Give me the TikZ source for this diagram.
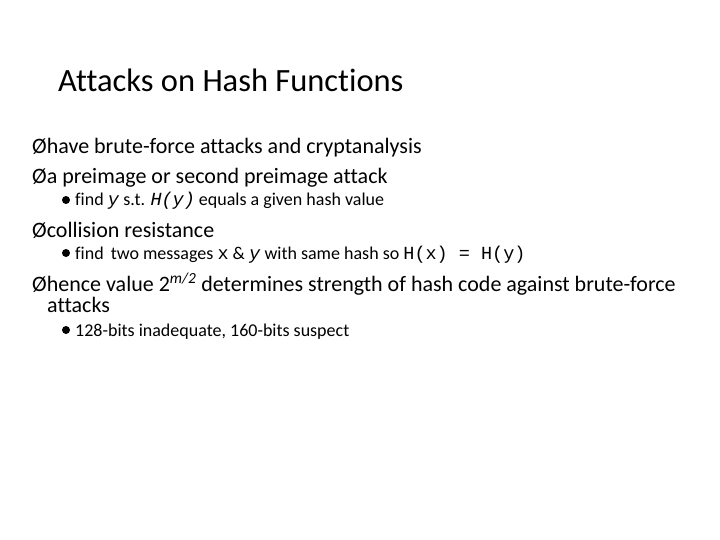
\documentclass[tikz,border=0pt]{standalone}
\usepackage{fontspec}
\setmainfont[Ligatures=NoCommon]{Carlito}
\setmonofont{Liberation Mono}
\begin{document}
\begin{tikzpicture}[x=1pt,y=-1pt,
  title/.style={anchor=base west,inner sep=0,font=\fontsize{32.5}{36}\selectfont},
  lone/.style={anchor=base west,inner sep=0,font=\fontsize{22}{26}\selectfont},
  ltwo/.style={anchor=base west,inner sep=0,font=\fontsize{18}{20}\selectfont},
  dot/.style={circle,fill=black,inner sep=0,minimum size=8pt}]
\useasboundingbox[fill=white] (0,0) rectangle (720,540);
\node[title] (t) at (58,92) {Attacks on Hash Functions};
\node[lone] (a) at (32,154) {Øhave brute-force attacks and cryptanalysis};
\node[lone] (b) at (32,184) {Øa preimage or second preimage attack};
\node[dot] (b1d) at (66,200) {};
\node[ltwo] (b1) at (75,206) {find \texttt{\fontsize{18.5}{20}\selectfont\itshape y} s.t. \texttt{\fontsize{18.5}{20}\selectfont\itshape H(y)} equals a given hash value};
\node[lone] (c) at (32,237) {Øcollision resistance};
\node[dot] (c1d) at (66,253) {};
\node[ltwo] (c1) at (75,259) {find\, two messages \texttt{\fontsize{18.5}{20}\selectfont x} \& \texttt{\fontsize{18.5}{20}\selectfont\itshape y} with same hash so \texttt{\fontsize{18.5}{20}\selectfont H(x) = H(y)}};
\node[lone] (d) at (32,291) {Øhence value 2\textsuperscript{\itshape m/2} determines strength of hash code against brute-force};
\node[lone] (d2) at (47,312) {attacks};
\node[dot] (d1d) at (66,330) {};
\node[ltwo] (d1) at (75,336) {128-bits inadequate, 160-bits suspect};
\end{tikzpicture}
\end{document}
